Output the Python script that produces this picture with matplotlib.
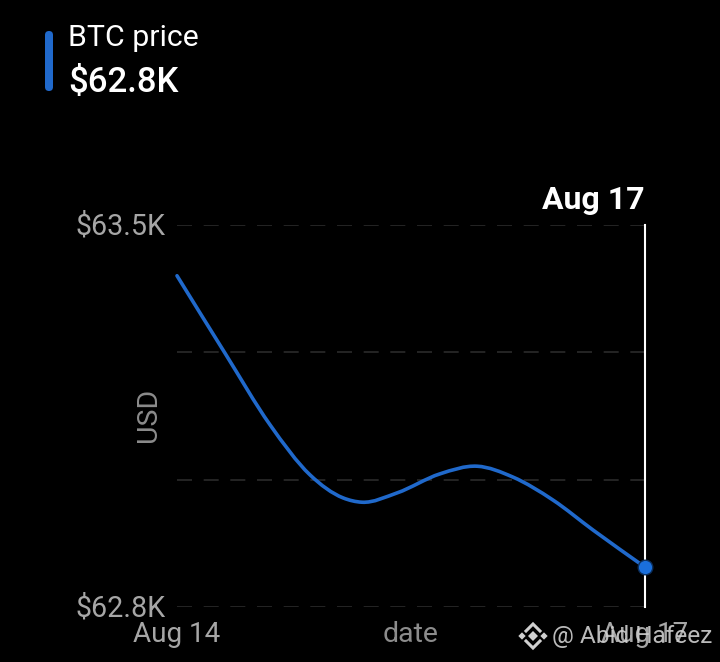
import matplotlib
matplotlib.use("Agg")
import matplotlib.pyplot as plt
from matplotlib.transforms import ScaledTranslation
import numpy as np
from matplotlib.path import Path
from matplotlib.patches import PathPatch, FancyBboxPatch

plt.rcParams['font.family'] = ['Roboto', 'DejaVu Sans']

days = [0, .308, .596, .853, 1.064, 1.186, 1.41, 1.686, 1.923, 2.154, 2.41, 2.667, 3.0]
price = [63.407, 63.265, 63.134, 63.042, 63.000, 62.992, 63.009, 63.044, 63.058, 63.038, 62.996, 62.941, 62.873]
y_ticks = [62.8, 63.0333, 63.2667, 63.5]
y_labels = ['$62.8K', '', '', '$63.5K']
x_ticks = [0, 3]
x_labels = ['Aug 14', 'Aug 17']
series_name = 'BTC price'
latest = '$62.8K'
W, H = 720, 662
BLUE = '#2069cb'
GREY = '#a6a6a6'

fig = plt.figure(figsize=(W / 100, H / 100), dpi=100, facecolor='black')
ax = fig.add_axes([177 / W, 1 - 607 / H, 468 / W, 382 / H], facecolor='black')
ax.set_xlim(0, 3)
ax.set_ylim(62.8, 63.5)
for s in ax.spines.values():
    s.set_visible(False)

ax.set_yticks(y_ticks, y_labels, color=GREY, fontsize=20.6)
ax.set_xticks(x_ticks, x_labels, color=GREY, fontsize=20)
ax.tick_params(length=0, axis='y', pad=8)
ax.tick_params(length=0, axis='x', pad=10)
ax.grid(axis='y', color='#2b2b2b', lw=1.2, dashes=(9, 7))
ax.set_axisbelow(True)
shift = ScaledTranslation(0, 2 / 100, fig.dpi_scale_trans)
for lbl in ax.get_yticklabels():
    lbl.set_transform(lbl.get_transform() + shift)

# smooth curve through the points (cubic Hermite segments as Bezier)
xs = np.array(days)
ys = np.array(price)
slope = np.gradient(ys, xs)
verts = [(xs[0], ys[0])]
codes = [Path.MOVETO]
for i in range(len(xs) - 1):
    d = (xs[i + 1] - xs[i]) / 3
    verts += [(xs[i] + d, ys[i] + slope[i] * d), (xs[i + 1] - d, ys[i + 1] - slope[i + 1] * d), (xs[i + 1], ys[i + 1])]
    codes += [Path.CURVE4] * 3
ax.add_patch(PathPatch(Path(verts, codes), fc='none', ec=BLUE, lw=2.6, capstyle='round', zorder=3, clip_on=False))

ax.axvline(days[-1], color='white', lw=1.5, zorder=4, clip_on=False)
ax.plot(days[-1], price[-1], 'o', ms=10.5, mfc='#1a6fdc', mec='#0c2f5c', mew=1, zorder=5, clip_on=False)

fig.text(148 / W, 1 - 415 / H, 'USD', rotation=90, ha='center', va='center',
         color='#8c8c8c', fontsize=20.5)
fig.text(411 / W, 1 - 634 / H, 'date', ha='center', va='center', color='#8c8c8c', fontsize=20.5)
fig.text(645 / W, 1 - 200 / H, 'Aug 17', ha='right', va='center', color='white', fontsize=23, fontweight='bold')

fig.text(68 / W, 1 - 38 / H, series_name, ha='left', va='center', color='white', fontsize=21.8)
fig.text(68 / W, 1 - 82 / H, latest, ha='left', va='center', color='white', fontsize=25, fontweight='medium')

# overlay in pixel coordinates for legend bar and watermark
ov = fig.add_axes([0, 0, 1, 1], facecolor='none')
ov.set_xlim(0, W)
ov.set_ylim(H, 0)
ov.axis('off')
ov.add_patch(FancyBboxPatch((49, 35), 0, 52, boxstyle='round,pad=4,rounding_size=4', fc=BLUE, ec='none'))
wm = '#d0d0d0'
ov.plot([526, 533, 540], [631, 624, 631], color=wm, lw=2.2, solid_joinstyle='miter')
ov.plot([526, 533, 540], [641, 648, 641], color=wm, lw=2.2, solid_joinstyle='miter')
ov.scatter([533], [636], marker='D', s=26, fc=wm, ec='none')
ov.scatter([522, 544], [636, 636], marker='D', s=14, fc=wm, ec='none')
ov.text(552, 636, '@ Abid Hafeez', ha='left', va='center', color=wm, fontsize=17.6, alpha=0.9)

fig.savefig('out.png', dpi=100, facecolor='black')
